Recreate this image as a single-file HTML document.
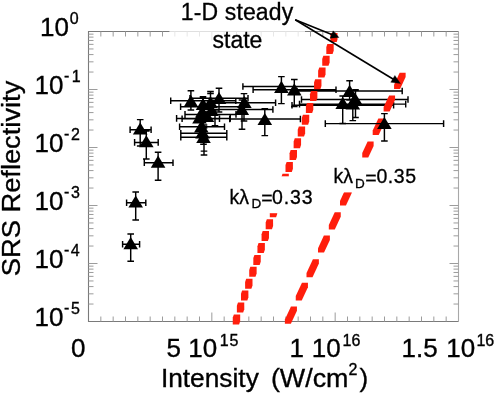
<!DOCTYPE html>
<html><head><meta charset="utf-8"><title>SRS Reflectivity vs Intensity</title>
<style>html,body{margin:0;padding:0;background:#fff;width:500px;height:395px;overflow:hidden}</style>
</head><body>
<svg width="500" height="395" viewBox="0 0 500 395" style="display:block;font-family:'Liberation Sans',Arial,Helvetica,sans-serif">
<rect width="500" height="395" fill="#fff"/>
<g stroke="#9c9c9c" stroke-width="1" fill="none"><path d="M458.5,31.5V321.5" stroke="#a8a8a8" stroke-width="1.1"/><path d="M458.5,31.5H88.5V321.5H458.5" fill="none" stroke="#7a7a7a" stroke-width="1.1"/><line x1="100.83" y1="321.5" x2="100.83" y2="316.5"/><line x1="100.83" y1="31.5" x2="100.83" y2="36.5"/><line x1="113.17" y1="321.5" x2="113.17" y2="316.5"/><line x1="113.17" y1="31.5" x2="113.17" y2="36.5"/><line x1="125.50" y1="321.5" x2="125.50" y2="316.5"/><line x1="125.50" y1="31.5" x2="125.50" y2="36.5"/><line x1="137.83" y1="321.5" x2="137.83" y2="316.5"/><line x1="137.83" y1="31.5" x2="137.83" y2="36.5"/><line x1="150.17" y1="321.5" x2="150.17" y2="316.5"/><line x1="150.17" y1="31.5" x2="150.17" y2="36.5"/><line x1="162.50" y1="321.5" x2="162.50" y2="316.5"/><line x1="162.50" y1="31.5" x2="162.50" y2="36.5"/><line x1="174.83" y1="321.5" x2="174.83" y2="316.5"/><line x1="174.83" y1="31.5" x2="174.83" y2="36.5"/><line x1="187.17" y1="321.5" x2="187.17" y2="316.5"/><line x1="187.17" y1="31.5" x2="187.17" y2="36.5"/><line x1="199.50" y1="321.5" x2="199.50" y2="316.5"/><line x1="199.50" y1="31.5" x2="199.50" y2="36.5"/><line x1="211.83" y1="321.5" x2="211.83" y2="312.5"/><line x1="211.83" y1="31.5" x2="211.83" y2="40.5"/><line x1="224.17" y1="321.5" x2="224.17" y2="316.5"/><line x1="224.17" y1="31.5" x2="224.17" y2="36.5"/><line x1="236.50" y1="321.5" x2="236.50" y2="316.5"/><line x1="236.50" y1="31.5" x2="236.50" y2="36.5"/><line x1="248.83" y1="321.5" x2="248.83" y2="316.5"/><line x1="248.83" y1="31.5" x2="248.83" y2="36.5"/><line x1="261.17" y1="321.5" x2="261.17" y2="316.5"/><line x1="261.17" y1="31.5" x2="261.17" y2="36.5"/><line x1="273.50" y1="321.5" x2="273.50" y2="316.5"/><line x1="273.50" y1="31.5" x2="273.50" y2="36.5"/><line x1="285.83" y1="321.5" x2="285.83" y2="316.5"/><line x1="285.83" y1="31.5" x2="285.83" y2="36.5"/><line x1="298.17" y1="321.5" x2="298.17" y2="316.5"/><line x1="298.17" y1="31.5" x2="298.17" y2="36.5"/><line x1="310.50" y1="321.5" x2="310.50" y2="316.5"/><line x1="310.50" y1="31.5" x2="310.50" y2="36.5"/><line x1="322.83" y1="321.5" x2="322.83" y2="316.5"/><line x1="322.83" y1="31.5" x2="322.83" y2="36.5"/><line x1="335.17" y1="321.5" x2="335.17" y2="312.5"/><line x1="335.17" y1="31.5" x2="335.17" y2="40.5"/><line x1="347.50" y1="321.5" x2="347.50" y2="316.5"/><line x1="347.50" y1="31.5" x2="347.50" y2="36.5"/><line x1="359.83" y1="321.5" x2="359.83" y2="316.5"/><line x1="359.83" y1="31.5" x2="359.83" y2="36.5"/><line x1="372.17" y1="321.5" x2="372.17" y2="316.5"/><line x1="372.17" y1="31.5" x2="372.17" y2="36.5"/><line x1="384.50" y1="321.5" x2="384.50" y2="316.5"/><line x1="384.50" y1="31.5" x2="384.50" y2="36.5"/><line x1="396.83" y1="321.5" x2="396.83" y2="316.5"/><line x1="396.83" y1="31.5" x2="396.83" y2="36.5"/><line x1="409.17" y1="321.5" x2="409.17" y2="316.5"/><line x1="409.17" y1="31.5" x2="409.17" y2="36.5"/><line x1="421.50" y1="321.5" x2="421.50" y2="316.5"/><line x1="421.50" y1="31.5" x2="421.50" y2="36.5"/><line x1="433.83" y1="321.5" x2="433.83" y2="316.5"/><line x1="433.83" y1="31.5" x2="433.83" y2="36.5"/><line x1="446.17" y1="321.5" x2="446.17" y2="316.5"/><line x1="446.17" y1="31.5" x2="446.17" y2="36.5"/><line x1="88.5" y1="304.04" x2="93.5" y2="304.04"/><line x1="458.5" y1="304.04" x2="453.5" y2="304.04"/><line x1="88.5" y1="293.83" x2="93.5" y2="293.83"/><line x1="458.5" y1="293.83" x2="453.5" y2="293.83"/><line x1="88.5" y1="286.58" x2="93.5" y2="286.58"/><line x1="458.5" y1="286.58" x2="453.5" y2="286.58"/><line x1="88.5" y1="280.96" x2="93.5" y2="280.96"/><line x1="458.5" y1="280.96" x2="453.5" y2="280.96"/><line x1="88.5" y1="276.37" x2="93.5" y2="276.37"/><line x1="458.5" y1="276.37" x2="453.5" y2="276.37"/><line x1="88.5" y1="272.48" x2="93.5" y2="272.48"/><line x1="458.5" y1="272.48" x2="453.5" y2="272.48"/><line x1="88.5" y1="269.12" x2="93.5" y2="269.12"/><line x1="458.5" y1="269.12" x2="453.5" y2="269.12"/><line x1="88.5" y1="266.15" x2="93.5" y2="266.15"/><line x1="458.5" y1="266.15" x2="453.5" y2="266.15"/><line x1="88.5" y1="263.50" x2="97.5" y2="263.50"/><line x1="458.5" y1="263.50" x2="449.5" y2="263.50"/><line x1="88.5" y1="246.04" x2="93.5" y2="246.04"/><line x1="458.5" y1="246.04" x2="453.5" y2="246.04"/><line x1="88.5" y1="235.83" x2="93.5" y2="235.83"/><line x1="458.5" y1="235.83" x2="453.5" y2="235.83"/><line x1="88.5" y1="228.58" x2="93.5" y2="228.58"/><line x1="458.5" y1="228.58" x2="453.5" y2="228.58"/><line x1="88.5" y1="222.96" x2="93.5" y2="222.96"/><line x1="458.5" y1="222.96" x2="453.5" y2="222.96"/><line x1="88.5" y1="218.37" x2="93.5" y2="218.37"/><line x1="458.5" y1="218.37" x2="453.5" y2="218.37"/><line x1="88.5" y1="214.48" x2="93.5" y2="214.48"/><line x1="458.5" y1="214.48" x2="453.5" y2="214.48"/><line x1="88.5" y1="211.12" x2="93.5" y2="211.12"/><line x1="458.5" y1="211.12" x2="453.5" y2="211.12"/><line x1="88.5" y1="208.15" x2="93.5" y2="208.15"/><line x1="458.5" y1="208.15" x2="453.5" y2="208.15"/><line x1="88.5" y1="205.50" x2="97.5" y2="205.50"/><line x1="458.5" y1="205.50" x2="449.5" y2="205.50"/><line x1="88.5" y1="188.04" x2="93.5" y2="188.04"/><line x1="458.5" y1="188.04" x2="453.5" y2="188.04"/><line x1="88.5" y1="177.83" x2="93.5" y2="177.83"/><line x1="458.5" y1="177.83" x2="453.5" y2="177.83"/><line x1="88.5" y1="170.58" x2="93.5" y2="170.58"/><line x1="458.5" y1="170.58" x2="453.5" y2="170.58"/><line x1="88.5" y1="164.96" x2="93.5" y2="164.96"/><line x1="458.5" y1="164.96" x2="453.5" y2="164.96"/><line x1="88.5" y1="160.37" x2="93.5" y2="160.37"/><line x1="458.5" y1="160.37" x2="453.5" y2="160.37"/><line x1="88.5" y1="156.48" x2="93.5" y2="156.48"/><line x1="458.5" y1="156.48" x2="453.5" y2="156.48"/><line x1="88.5" y1="153.12" x2="93.5" y2="153.12"/><line x1="458.5" y1="153.12" x2="453.5" y2="153.12"/><line x1="88.5" y1="150.15" x2="93.5" y2="150.15"/><line x1="458.5" y1="150.15" x2="453.5" y2="150.15"/><line x1="88.5" y1="147.50" x2="97.5" y2="147.50"/><line x1="458.5" y1="147.50" x2="449.5" y2="147.50"/><line x1="88.5" y1="130.04" x2="93.5" y2="130.04"/><line x1="458.5" y1="130.04" x2="453.5" y2="130.04"/><line x1="88.5" y1="119.83" x2="93.5" y2="119.83"/><line x1="458.5" y1="119.83" x2="453.5" y2="119.83"/><line x1="88.5" y1="112.58" x2="93.5" y2="112.58"/><line x1="458.5" y1="112.58" x2="453.5" y2="112.58"/><line x1="88.5" y1="106.96" x2="93.5" y2="106.96"/><line x1="458.5" y1="106.96" x2="453.5" y2="106.96"/><line x1="88.5" y1="102.37" x2="93.5" y2="102.37"/><line x1="458.5" y1="102.37" x2="453.5" y2="102.37"/><line x1="88.5" y1="98.48" x2="93.5" y2="98.48"/><line x1="458.5" y1="98.48" x2="453.5" y2="98.48"/><line x1="88.5" y1="95.12" x2="93.5" y2="95.12"/><line x1="458.5" y1="95.12" x2="453.5" y2="95.12"/><line x1="88.5" y1="92.15" x2="93.5" y2="92.15"/><line x1="458.5" y1="92.15" x2="453.5" y2="92.15"/><line x1="88.5" y1="89.50" x2="97.5" y2="89.50"/><line x1="458.5" y1="89.50" x2="449.5" y2="89.50"/><line x1="88.5" y1="72.04" x2="93.5" y2="72.04"/><line x1="458.5" y1="72.04" x2="453.5" y2="72.04"/><line x1="88.5" y1="61.83" x2="93.5" y2="61.83"/><line x1="458.5" y1="61.83" x2="453.5" y2="61.83"/><line x1="88.5" y1="54.58" x2="93.5" y2="54.58"/><line x1="458.5" y1="54.58" x2="453.5" y2="54.58"/><line x1="88.5" y1="48.96" x2="93.5" y2="48.96"/><line x1="458.5" y1="48.96" x2="453.5" y2="48.96"/><line x1="88.5" y1="44.37" x2="93.5" y2="44.37"/><line x1="458.5" y1="44.37" x2="453.5" y2="44.37"/><line x1="88.5" y1="40.48" x2="93.5" y2="40.48"/><line x1="458.5" y1="40.48" x2="453.5" y2="40.48"/><line x1="88.5" y1="37.12" x2="93.5" y2="37.12"/><line x1="458.5" y1="37.12" x2="453.5" y2="37.12"/><line x1="88.5" y1="34.15" x2="93.5" y2="34.15"/><line x1="458.5" y1="34.15" x2="453.5" y2="34.15"/></g>
<g fill="none" stroke="#000" stroke-width="1.45"><path d="M126.6,202.7H145.8M126.6,199.40v6.6M145.8,199.40v6.6M135.7,191.9V220.0M132.40,191.9h6.6M132.40,220.0h6.6M122.6,244.3H139.6M122.6,241.00v6.6M139.6,241.00v6.6M130.7,233.9V261.3M127.40,233.9h6.6M127.40,261.3h6.6M130.1,129.7H151.1M130.1,126.40v6.6M151.1,126.40v6.6M140.2,119.6V146.0M136.90,119.6h6.6M136.90,146.0h6.6M134.6,142.4H158.2M134.6,139.10v6.6M158.2,139.10v6.6M146.3,131.0V159.0M143.00,131.0h6.6M143.00,159.0h6.6M144.3,162.8H173.0M144.3,159.50v6.6M173.0,159.50v6.6M158.1,152.2V180.2M154.80,152.2h6.6M154.80,180.2h6.6M170.7,100.7H235.8M170.7,97.40v6.6M235.8,97.40v6.6M180.6,106.7H240.6M180.6,103.40v6.6M240.6,103.40v6.6M190.0,98.2H248.0M190.0,94.90v6.6M248.0,94.90v6.6M213.2,102.7H275.6M213.2,99.40v6.6M275.6,99.40v6.6M210.7,109.5H272.9M210.7,106.20v6.6M272.9,106.20v6.6M185.0,114.4H236.0M185.0,111.10v6.6M236.0,111.10v6.6M176.6,118.4H230.3M176.6,115.10v6.6M230.3,115.10v6.6M182.1,118.8H219.5M182.1,115.50v6.6M219.5,115.50v6.6M229.7,119.0H300.4M229.7,115.70v6.6M300.4,115.70v6.6M179.6,126.7H224.5M179.6,123.40v6.6M224.5,123.40v6.6M180.8,133.3H226.8M180.8,130.00v6.6M226.8,130.00v6.6M180.8,137.2H226.8M180.8,133.90v6.6M226.8,133.90v6.6M242.9,86.5H318.0M242.9,83.20v6.6M318.0,83.20v6.6M253.1,89.8H336.0M253.1,86.50v6.6M336.0,86.50v6.6M297.0,91.0H402.2M297.0,87.70v6.6M402.2,87.70v6.6M301.5,99.5H408.0M301.5,96.20v6.6M408.0,96.20v6.6M299.5,104.1H405.7M299.5,100.80v6.6M405.7,100.80v6.6M292.0,105.3H393.6M292.0,102.00v6.6M393.6,102.00v6.6M190.9,90.7V110.0M187.60,90.7h6.6M187.60,110.0h6.6M203.0,96.7V112.0M199.70,96.7h6.6M199.70,112.0h6.6M210.5,91.5V112.0M207.20,91.5h6.6M207.20,112.0h6.6M210.5,93.5V108.0M207.20,93.5h6.6M207.20,108.0h6.6M219.0,88.3V112.0M215.70,88.3h6.6M215.70,112.0h6.6M203.5,120.0V144.2M200.20,120.0h6.6M200.20,144.2h6.6M204.0,125.0V151.1M200.70,125.0h6.6M200.70,151.1h6.6M204.0,128.0V155.0M200.70,128.0h6.6M200.70,155.0h6.6M215.0,110.0V125.8M211.70,110.0h6.6M211.70,125.8h6.6M244.0,93.6V121.0M240.70,93.6h6.6M240.70,121.0h6.6M242.0,100.0V129.3M238.70,100.0h6.6M238.70,129.3h6.6M264.8,108.8V135.6M261.50,108.8h6.6M261.50,135.6h6.6M281.4,76.6V103.6M278.10,76.6h6.6M278.10,103.6h6.6M294.3,79.4V106.5M291.00,79.4h6.6M291.00,106.5h6.6M349.6,80.7V100.0M346.30,80.7h6.6M346.30,100.0h6.6M355.5,89.6V117.4M352.20,89.6h6.6M352.20,117.4h6.6M352.8,100.0V120.6M349.50,100.0h6.6M349.50,120.6h6.6M342.7,95.9V123.5M339.40,95.9h6.6M339.40,123.5h6.6"/></g><g fill="#000"><polygon points="135.7,195.50 143.00,207.60 128.40,207.60"/><polygon points="130.7,237.10 138.00,249.20 123.40,249.20"/><polygon points="140.2,122.50 147.50,134.60 132.90,134.60"/><polygon points="146.3,135.20 153.60,147.30 139.00,147.30"/><polygon points="158.1,155.60 165.40,167.70 150.80,167.70"/><polygon points="190.9,95.00 198.20,107.10 183.60,107.10"/><polygon points="203.0,98.00 210.30,110.10 195.70,110.10"/><polygon points="210.5,96.00 217.80,108.10 203.20,108.10"/><polygon points="219.0,92.00 226.30,104.10 211.70,104.10"/><polygon points="202.3,105.50 209.60,117.60 195.00,117.60"/><polygon points="211.5,104.00 218.80,116.10 204.20,116.10"/><polygon points="199.5,111.50 206.80,123.60 192.20,123.60"/><polygon points="207.0,110.00 214.30,122.10 199.70,122.10"/><polygon points="201.3,120.30 208.60,132.40 194.00,132.40"/><polygon points="202.5,126.30 209.80,138.40 195.20,138.40"/><polygon points="203.5,131.00 210.80,143.10 196.20,143.10"/><polygon points="244.4,96.00 251.70,108.10 237.10,108.10"/><polygon points="241.8,102.80 249.10,114.90 234.50,114.90"/><polygon points="264.8,113.00 272.10,125.10 257.50,125.10"/><polygon points="281.4,80.80 288.70,92.90 274.10,92.90"/><polygon points="294.3,83.30 301.60,95.40 287.00,95.40"/><polygon points="349.6,84.80 356.90,96.90 342.30,96.90"/><polygon points="355.0,92.50 362.30,104.60 347.70,104.60"/><polygon points="352.8,97.50 360.10,109.60 345.50,109.60"/><polygon points="342.7,96.80 350.00,108.90 335.40,108.90"/></g>
<g fill="#ff1e0c"><polygon points="233.87,314.40 240.17,314.40 240.17,321.20 239.06,324.40 232.76,324.40 232.76,317.60"/><polygon points="237.98,302.50 244.28,302.50 244.28,309.30 243.17,312.50 236.87,312.50 236.87,305.70"/><polygon points="242.10,290.60 248.40,290.60 248.40,297.40 247.29,300.60 240.99,300.60 240.99,293.80"/><polygon points="246.21,278.70 252.51,278.70 252.51,285.50 251.40,288.70 245.10,288.70 245.10,281.90"/><polygon points="250.33,266.80 256.63,266.80 256.63,273.60 255.52,276.80 249.22,276.80 249.22,270.00"/><polygon points="254.44,254.90 260.74,254.90 260.74,261.70 259.63,264.90 253.33,264.90 253.33,258.10"/><polygon points="258.56,243.00 264.86,243.00 264.86,249.80 263.75,253.00 257.45,253.00 257.45,246.20"/><polygon points="262.67,231.10 268.97,231.10 268.97,237.90 267.86,241.10 261.56,241.10 261.56,234.30"/><polygon points="266.79,219.20 273.09,219.20 273.09,226.00 271.98,229.20 265.68,229.20 265.68,222.40"/><polygon points="270.90,207.30 277.20,207.30 277.20,214.10 276.09,217.30 269.79,217.30 269.79,210.50"/><polygon points="282.52,173.70 288.82,173.70 288.82,180.50 287.71,183.70 281.41,183.70 281.41,176.90"/><polygon points="286.60,161.90 292.90,161.90 292.90,168.70 291.79,171.90 285.49,171.90 285.49,165.10"/><polygon points="290.68,150.10 296.98,150.10 296.98,156.90 295.87,160.10 289.57,160.10 289.57,153.30"/><polygon points="294.76,138.30 301.06,138.30 301.06,145.10 299.95,148.30 293.65,148.30 293.65,141.50"/><polygon points="298.84,126.50 305.14,126.50 305.14,133.30 304.04,136.50 297.74,136.50 297.74,129.70"/><polygon points="302.92,114.70 309.22,114.70 309.22,121.50 308.12,124.70 301.82,124.70 301.82,117.90"/><polygon points="307.00,102.90 313.30,102.90 313.30,109.70 312.20,112.90 305.90,112.90 305.90,106.10"/><polygon points="311.08,91.10 317.38,91.10 317.38,97.90 316.28,101.10 309.98,101.10 309.98,94.30"/><polygon points="315.16,79.30 321.46,79.30 321.46,86.10 320.36,89.30 314.06,89.30 314.06,82.50"/><polygon points="319.24,67.50 325.54,67.50 325.54,74.30 324.44,77.50 318.14,77.50 318.14,70.70"/><polygon points="323.32,55.70 329.62,55.70 329.62,62.50 328.52,65.70 322.22,65.70 322.22,58.90"/><polygon points="327.40,43.90 333.70,43.90 333.70,50.70 332.60,53.90 326.30,53.90 326.30,47.10"/><polygon points="331.17,33.00 337.47,33.00 337.47,39.80 336.68,42.10 330.38,42.10 330.38,35.30"/><polygon points="290.95,306.40 296.95,306.40 296.95,310.80 290.90,323.80 284.90,323.80 284.90,319.40"/><polygon points="301.93,282.80 307.93,282.80 307.93,287.20 301.74,300.50 295.74,300.50 295.74,296.10"/><polygon points="312.90,259.20 318.90,259.20 318.90,263.60 312.53,277.30 306.53,277.30 306.53,272.90"/><polygon points="323.88,235.60 329.88,235.60 329.88,240.00 324.02,252.60 318.02,252.60 318.02,248.20"/><polygon points="334.72,212.30 340.72,212.30 340.72,216.70 334.81,229.40 328.81,229.40 328.81,225.00"/><polygon points="345.74,188.60 351.74,188.60 351.74,193.00 345.97,205.40 339.97,205.40 339.97,201.00"/><polygon points="399.64,72.70 405.64,72.70 405.64,77.10 400.06,89.10 394.06,89.10 394.06,84.70"/><polygon points="389.09,95.40 395.09,95.40 395.09,99.80 389.64,111.50 383.64,111.50 383.64,107.10"/><polygon points="378.34,118.50 384.34,118.50 384.34,122.90 378.71,135.00 372.71,135.00 372.71,130.60"/><polygon points="367.64,141.50 373.64,141.50 373.64,145.90 368.25,157.50 362.25,157.50 362.25,153.10"/></g>
<g fill="none" stroke="#000" stroke-width="1.45"><path d="M325.3,123.6H443.6M325.3,120.30v6.6M443.6,120.30v6.6M384.4,113.6V141.0M381.10,113.6h6.6M381.10,141.0h6.6"/></g><g fill="#000"><polygon points="384.4,117.00 391.70,129.10 377.10,129.10"/></g>
<g stroke="#000" stroke-width="0.3"><rect x="169.4" y="0" width="135.6" height="52" fill="#fff" fill-opacity="0.76" stroke="none"/><text x="180.8" y="19.8" font-size="23" textLength="112.4">1-D steady</text><text x="212.5" y="47.8" font-size="23">state</text><g stroke="#000" stroke-width="1.6"><line x1="295.2" y1="19.8" x2="333" y2="35"/><line x1="295.2" y1="19.8" x2="395" y2="80.2"/></g><polygon points="339,37.5 333.1,30.8 330.1,38.2" fill="#000"/><polygon points="400.5,83.5 390.73,82.26 394.87,75.42" fill="#000"/></g>
<g stroke="#000" stroke-width="0.3"><rect x="226" y="176.3" width="90" height="36.9" fill="#fff" stroke="none"/><rect x="330" y="158" width="90" height="34.4" fill="#fff" stroke="none"/><text x="229.5" y="203.5" font-size="19.5">k&#955;</text><text x="251.5" y="208" font-size="13.5">D</text><text x="261.2" y="205.4" font-size="19.5">=</text><text x="272" y="203.5" font-size="19.5" textLength="40.6">0.33</text><text x="333.5" y="183" font-size="19.5">k&#955;</text><text x="355" y="187.5" font-size="13.5">D</text><text x="365.2" y="184.9" font-size="19.5">=</text><text x="376.5" y="183" font-size="19.5" textLength="39.5">0.35</text></g>
<g fill="#000" stroke="#000" stroke-width="0.35"><text x="40" y="36.1" font-size="26">10</text><text x="69.8" y="24.2" font-size="16">0</text><text x="34.6" y="94.1" font-size="26">10</text><text x="63.9" y="81.3" font-size="16">-</text><text x="71.8" y="82.2" font-size="16">1</text><text x="34.6" y="152.1" font-size="26">10</text><text x="63.9" y="139.3" font-size="16">-</text><text x="71.1" y="140.2" font-size="16">2</text><text x="34.6" y="210.1" font-size="26">10</text><text x="63.9" y="197.3" font-size="16">-</text><text x="71.1" y="198.2" font-size="16">3</text><text x="34.6" y="268.1" font-size="26">10</text><text x="63.9" y="255.3" font-size="16">-</text><text x="70.8" y="256.2" font-size="16">4</text><text x="34.6" y="326.1" font-size="26">10</text><text x="63.9" y="313.3" font-size="16">-</text><text x="71.1" y="314.2" font-size="16">5</text><text x="70.9" y="357.4" font-size="26">0</text><text x="166.5" y="357.4" font-size="26">5</text><text x="188.2" y="357.4" font-size="26">10</text><text x="219.8" y="346.0" font-size="16">1</text><text x="229.4" y="346.0" font-size="16">5</text><text x="289.4" y="357.4" font-size="26">1</text><text x="311.8" y="357.4" font-size="26">10</text><text x="342.6" y="346.0" font-size="16">1</text><text x="351.4" y="346.0" font-size="16">6</text><text x="401.6" y="357.4" font-size="26">1.5</text><text x="446.2" y="357.4" font-size="26">10</text><text x="476.4" y="346.0" font-size="16">1</text><text x="485.2" y="346.0" font-size="16">6</text><text x="160.9" y="386.5" font-size="26" textLength="97.9" lengthAdjust="spacingAndGlyphs">Intensity</text><text x="270.9" y="386.5" font-size="26" textLength="77.6" lengthAdjust="spacingAndGlyphs">(W/cm</text><text x="348.4" y="374.6" font-size="16">2</text><text x="359.6" y="386.5" font-size="26">)</text><text transform="translate(19.8,276.2) rotate(-90)" font-size="26" textLength="195.5" lengthAdjust="spacingAndGlyphs">SRS Reflectivity</text></g>
</svg>
</body></html>
